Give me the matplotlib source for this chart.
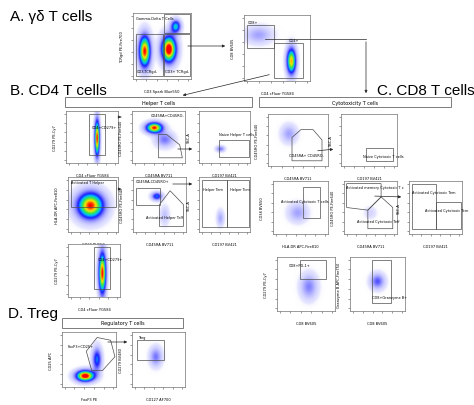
import matplotlib
matplotlib.use('Agg')
import matplotlib.pyplot as plt
import numpy as np
from matplotlib.colors import LinearSegmentedColormap
from matplotlib.patches import Polygon, Rectangle

W, H = 474, 406
fig = plt.figure(figsize=(W / 100, H / 100), dpi=100)
fig.patch.set_facecolor('white')

# population clouds per plot: (center x, center y, spread x, spread y, peak density), axes fraction
blobs_a1 = [(0.2, 0.42, 0.07, 0.17, 1.0), (0.62, 0.45, 0.09, 0.14, 1.1), (0.74, 0.8, 0.06, 0.07, 0.6)]
blobs_a2 = [(0.72, 0.3, 0.05, 0.14, 0.9), (0.22, 0.7, 0.14, 0.09, 0.22)]
blobs_b1a = [(0.6, 0.48, 0.035, 0.25, 1.0)]
blobs_b1b = [(0.42, 0.68, 0.11, 0.07, 1.0), (0.62, 0.45, 0.12, 0.1, 0.3)]
blobs_b1c = [(0.42, 0.27, 0.06, 0.04, 0.3)]
blobs_b2a = [(0.45, 0.48, 0.19, 0.17, 1.0)]
blobs_b2b = [(0.45, 0.65, 0.07, 0.05, 0.5), (0.6, 0.3, 0.06, 0.12, 0.15)]
blobs_b2c = [(0.42, 0.25, 0.05, 0.1, 0.2)]
blobs_b3 = [(0.65, 0.45, 0.05, 0.28, 1.0)]
blobs_c1a = [(0.35, 0.62, 0.09, 0.12, 0.22)]
blobs_c2a = [(0.45, 0.4, 0.12, 0.12, 0.22)]
blobs_c2b = [(0.5, 0.4, 0.08, 0.08, 0.1)]
blobs_c3a = [(0.55, 0.45, 0.1, 0.16, 0.28)]
blobs_c3b = [(0.5, 0.55, 0.09, 0.1, 0.35)]
blobs_d1 = [(0.43, 0.2, 0.12, 0.07, 1.1), (0.65, 0.5, 0.06, 0.15, 0.5)]
blobs_d2 = [(0.45, 0.55, 0.08, 0.12, 0.3)]

cmap = LinearSegmentedColormap.from_list('flow', [
    (0.0, (1, 1, 1, 0)), (0.04, (0.8, 0.8, 1, 0.5)), (0.25, (0.5, 0.5, 1, 0.85)),
    (0.42, (0.1, 0.1, 1, 1)), (0.56, (0, 0.75, 1, 1)), (0.7, (0.2, 0.9, 0.3, 1)),
    (0.86, (1, 0.9, 0, 1)), (1.0, (1, 0, 0, 1))])


def fx(x):
    return x / W


def fy(y):
    return 1 - y / H


def plot_panel(x0, y0, x1, y1, xlabel, ylabel, blobs, gates=(), labels=()):
    ax = fig.add_axes([fx(x0), fy(y1), fx(x1 - x0), (y1 - y0) / H])
    g = np.linspace(0, 1, 120)
    gx, gy = np.meshgrid(g, g)
    z = np.zeros_like(gx)
    for cx, cy, sx, sy, pk in blobs:
        z += pk * np.exp(-((gx - cx) ** 2 / (2 * sx ** 2) + (gy - cy) ** 2 / (2 * sy ** 2)))
    ax.imshow(np.clip(z, 0, 1), origin='lower', extent=(0, 1, 0, 1), cmap=cmap,
              vmin=0, vmax=1, aspect='auto', interpolation='bilinear')
    ax.set_xlim(0, 1)
    ax.set_ylim(0, 1)
    ax.set_xticks(np.linspace(0.05, 0.95, 6))
    ax.set_yticks(np.linspace(0.05, 0.95, 6))
    ax.set_xticklabels([])
    ax.set_yticklabels([])
    ax.tick_params(length=1.2, width=0.4, colors='0.3')
    for s in ax.spines.values():
        s.set_linewidth(0.5)
        s.set_color('0.45')
    ax.set_xlabel(xlabel, fontsize=2.6, labelpad=2.5)
    ax.set_ylabel(ylabel, fontsize=2.6, labelpad=1.5)
    for pts in gates:
        ax.add_patch(Polygon(pts, closed=True, fill=False, lw=0.5, ec='0.3'))
    for tx, ty, t in labels:
        ax.text(tx, ty, t, fontsize=2.5, ha='left', va='center')
    return ax


def rect(a, b, c, d):
    return [(a, b), (c, b), (c, d), (a, d)]


# A
plot_panel(133, 14, 191, 80, 'CD3 Spark Blue550', 'TCRgd PE-Fire700', blobs_a1,
           [rect(0.53, 0.7, 0.98, 0.98), rect(0.05, 0.05, 0.52, 0.68), rect(0.53, 0.05, 0.98, 0.68)],
           [(0.05, 0.93, 'Gamma-Delta T Cells'), (0.06, 0.12, 'CD3-TCRgd-'), (0.56, 0.12, 'CD3+ TCRgd-')])
plot_panel(244, 16, 310, 82, 'CD4 cFluor YG584', 'CD8 BV605', blobs_a2,
           [rect(0.04, 0.5, 0.45, 0.85), rect(0.46, 0.05, 0.9, 0.58)],
           [(0.05, 0.9, 'CD8+'), (0.68, 0.62, 'CD4+')])

# B
plot_panel(66, 112, 118, 164, 'CD4 cFluor YG584', 'CD279 PE-Cy7', blobs_b1a,
           [rect(0.45, 0.15, 0.75, 0.95)], [(0.5, 0.7, 'CD4+CD279+')])
plot_panel(132, 112, 185, 164, 'CD45RA BV711', 'CD45RO PE-Fire640', blobs_b1b,
           [[(0.5, 0.55), (0.65, 0.55), (0.9, 0.35), (0.95, 0.1), (0.5, 0.1)]],
           [(0.35, 0.92, 'CD45RA+CD45RO-')])
plot_panel(199, 112, 250, 164, 'CD197 BV421', 'SSC-A', blobs_b1c,
           [rect(0.4, 0.12, 0.98, 0.45)], [(0.4, 0.55, 'Naive Helper T cells')])
plot_panel(68, 178, 118, 233, 'CD38 BV650', 'HLA-DR APC-Fire810', blobs_b2a,
           [rect(0.05, 0.45, 0.95, 0.95)], [(0.06, 0.91, 'Activated T Helper')])
plot_panel(133, 178, 186, 233, 'CD45RA BV711', 'CD45RO PE-Fire640', blobs_b2b,
           [rect(0.05, 0.5, 0.5, 0.8), [(0.5, 0.1), (0.5, 0.5), (0.7, 0.75), (0.95, 0.5), (0.95, 0.1)]],
           [(0.06, 0.92, 'CD45RA-CD45RO+'), (0.25, 0.28, 'Activated Helper Teff')])
plot_panel(199, 178, 250, 233, 'CD197 BV421', 'SSC-A', blobs_b2c,
           [rect(0.05, 0.1, 0.55, 0.95), rect(0.55, 0.1, 0.98, 0.95)],
           [(0.08, 0.78, 'Helper Tem'), (0.6, 0.78, 'Helper Tcm')])
plot_panel(68, 245, 120, 298, 'CD4 cFluor YG584', 'CD279 PE-Cy7', blobs_b3,
           [rect(0.5, 0.15, 0.8, 0.95)], [(0.58, 0.72, 'CD4+CD279+')])

# C
plot_panel(268, 115, 328, 167, 'CD45RA BV711', 'CD45RO PE-Fire640', blobs_c1a,
           [[(0.4, 0.1), (0.4, 0.55), (0.55, 0.7), (0.75, 0.7), (0.9, 0.5), (0.9, 0.1)]],
           [(0.35, 0.22, 'CD45RA+ CD45RO-')])
plot_panel(341, 115, 397, 167, 'CD197 BV421', 'SSC-A', [],
           [rect(0.45, 0.1, 0.92, 0.35)], [(0.4, 0.2, 'Naive Cytotoxic T cells')])
plot_panel(273, 182, 328, 235, 'HLA-DR APC-Fire810', 'CD38 BV650', blobs_c2a,
           [rect(0.55, 0.3, 0.85, 0.88)], [(0.15, 0.62, 'Activated Cytotoxic T cells')])
plot_panel(344, 182, 397, 235, 'CD45RA BV711', 'CD45RO PE-Fire640', blobs_c2b,
           [[(0.05, 0.5), (0.05, 0.95), (0.7, 0.95), (0.7, 0.7), (0.45, 0.45)],
            [(0.45, 0.1), (0.45, 0.45), (0.7, 0.7), (0.92, 0.5), (0.92, 0.1)]],
           [(0.04, 0.88, 'Activated memory Cytotoxic T c'), (0.25, 0.25, 'Activated Cytotoxic Teff')])
plot_panel(409, 182, 462, 235, 'CD197 BV421', 'SSC-A', [],
           [rect(0.05, 0.1, 0.5, 0.95), rect(0.5, 0.1, 0.98, 0.6)],
           [(0.06, 0.8, 'Activated Cytotoxic Tem'), (0.3, 0.45, 'Activated Cytotoxic Tcm')])
plot_panel(277, 258, 335, 312, 'CD8 BV605', 'CD279 PE-Cy7', blobs_c3a,
           [rect(0.4, 0.6, 0.85, 0.95)], [(0.2, 0.86, 'CD8+PD-1+')])
plot_panel(350, 258, 405, 312, 'CD8 BV605', 'Granzyme B APC-Fire750', blobs_c3b,
           [rect(0.4, 0.15, 0.75, 0.95)], [(0.4, 0.25, 'CD8+Granzyme B+')])

# D
plot_panel(62, 333, 116, 388, 'FoxP3 PE', 'CD25 APC', blobs_d1,
           [[(0.55, 0.3), (0.45, 0.65), (0.65, 0.9), (0.9, 0.85), (0.98, 0.55), (0.75, 0.3)]],
           [(0.1, 0.75, 'FoxP3+CD25+')])
plot_panel(132, 333, 185, 388, 'CD127 AF700', 'CD279 BV480', blobs_d2,
           [rect(0.1, 0.5, 0.6, 0.85)], [(0.12, 0.91, 'Treg')])

# headings and population banners
fig.text(fx(10), fy(17), 'A. \u03b3\u03b4 T cells', fontsize=11, va='center', family='Liberation Sans')
fig.text(fx(10), fy(91), 'B. CD4 T cells', fontsize=11, va='center', family='Liberation Sans')
fig.text(fx(377), fy(91), 'C. CD8 T cells', fontsize=11, va='center', family='Liberation Sans')
fig.text(fx(8), fy(314), 'D. Treg', fontsize=11, va='center', family='Liberation Sans')
for x0, x1, y0, y1, t in [(65, 252, 98, 108, 'Helper T cells'), (259, 451, 98, 108, 'Cytotoxicity T cells'),
                          (62, 183, 319, 329, 'Regulatory T cells')]:
    fig.patches.append(Rectangle((fx(x0), fy(y1)), fx(x1 - x0), (y1 - y0) / H, transform=fig.transFigure,
                                 fill=False, lw=0.6, ec='0.4'))
    fig.text(fx((x0 + x1) / 2), fy((y0 + y1) / 2), t, fontsize=3.5, ha='center', va='center')

# arrows between gates
arrows = [((185, 47), (228, 47)), ((272, 75), (180, 97)), ((118, 118), (124, 118)), ((175, 150), (195, 150)),
          ((116, 190), (124, 190)), ((170, 185), (195, 185)), ((315, 152), (336, 150)), ((372, 197), (404, 198)),
          ((105, 343), (130, 343))]
for (xa, ya), (xb, yb) in arrows:
    fig.add_artist(matplotlib.patches.FancyArrowPatch((fx(xa), fy(ya)), (fx(xb), fy(yb)), transform=fig.transFigure,
                                                      arrowstyle='-|>', mutation_scale=4, lw=0.5, color='0.15'))
fig.add_artist(matplotlib.lines.Line2D([fx(265), fx(366)], [fy(40), fy(40)], transform=fig.transFigure, lw=0.5, color='0.15'))
fig.add_artist(matplotlib.patches.FancyArrowPatch((fx(366), fy(40)), (fx(366), fy(97)), transform=fig.transFigure,
                                                  arrowstyle='-|>', mutation_scale=4, lw=0.5, color='0.15'))

fig.savefig('out.png', dpi=100)
